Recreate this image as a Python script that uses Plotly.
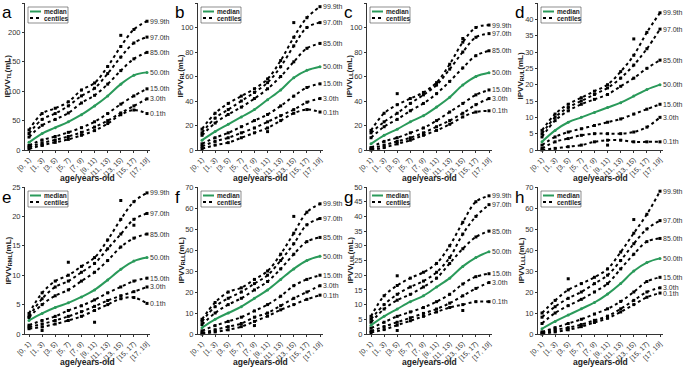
import plotly.graph_objects as go

W, H = 685, 369

categories = ["[0, 1)", "[1, 3)", "[3, 5)", "[5, 7)", "[7, 9)", "[9, 11)",
              "[11, 13)", "[13, 15)", "[15, 17)", "[17, 19]"]
centile_names = ["0.1th", "3.0th", "15.0th", "50.0th", "85.0th", "97.0th", "99.9th"]

# ---- panel a : TL ----
a_c001 = [2, 8, 13, 18, 25, 33, 45, 60, 68, 62]
a_c030 = [5, 12, 17, 23, 30, 39, 50, 63, 75, 87]
a_c150 = [8, 17, 23, 30, 38, 48, 62, 78, 92, 104]
a_c500 = [13, 28, 38, 48, 60, 75, 92, 112, 127, 132]
a_c850 = [22, 42, 52, 63, 80, 93, 112, 135, 155, 166]
a_c970 = [28, 52, 62, 75, 92, 105, 130, 158, 182, 192]
a_c999 = [34, 62, 71, 82, 102, 114, 142, 176, 205, 219]
a_out_x = [7, 1]
a_out_y = [195, 8]

# ---- panel b : RL ----
b_c001 = [1, 4, 6, 10, 14, 18, 24, 30, 33, 31]
b_c030 = [3, 7, 10, 14, 18, 23, 28, 33, 39, 42]
b_c150 = [5, 10, 14, 19, 24, 29, 36, 44, 51, 54]
b_c500 = [8, 15, 21, 27, 33, 41, 49, 59, 65, 68]
b_c850 = [12, 22, 29, 35, 42, 50, 60, 72, 83, 87]
b_c970 = [14, 26, 33, 40, 47, 55, 68, 85, 100, 104]
b_c999 = [17, 30, 38, 44, 50, 58, 73, 92, 108, 117]
b_out_x = [7, 5]
b_out_y = [104, 15]

# ---- panel c : LL ----
c_c001 = [0, 2, 5, 8, 12, 16, 21, 27, 31, 32]
c_c030 = [1, 4, 7, 10, 14, 19, 24, 30, 37, 42]
c_c150 = [2, 7, 10, 14, 18, 24, 31, 38, 45, 49]
c_c500 = [5, 12, 17, 23, 28, 35, 43, 53, 60, 63]
c_c850 = [10, 19, 25, 32, 38, 46, 56, 67, 77, 81]
c_c970 = [14, 23, 30, 38, 45, 53, 66, 80, 92, 95]
c_c999 = [16, 30, 37, 42, 47, 55, 70, 88, 100, 102]
c_out_x = [2, 7]
c_out_y = [46, 91]

# ---- panel d : RUL ----
d_c001 = [0, 0.5, 1, 1.5, 2.5, 3, 3, 2.5, 2.5, 2.5]
d_c030 = [0.5, 2.5, 3.5, 4.5, 5, 5, 5, 5.5, 7, 10]
d_c150 = [1.5, 4, 5.5, 6.5, 7.5, 8.5, 9.5, 11, 12.5, 14]
d_c500 = [2.5, 6, 8.5, 10, 11.5, 13, 14.5, 16.5, 18.5, 20]
d_c850 = [4, 9, 12, 14, 15.5, 17, 19.5, 22, 25, 27.5]
d_c970 = [5, 10, 13, 15, 17, 19, 22, 26, 31, 37]
d_c999 = [6, 11, 14, 16, 18, 20, 24, 29, 36, 42]
d_out_x = [7, 5]
d_out_y = [34, 1.5]

# ---- panel e : RML ----
e_c001 = [0.9, 1.2, 1.7, 2.3, 3, 4, 5, 6, 6.2, 5.2]
e_c030 = [1.2, 1.7, 2.3, 3, 3.8, 4.7, 5.7, 6.5, 7.2, 8]
e_c150 = [1.5, 2.3, 3, 4, 4.8, 5.8, 7, 8, 9, 9.5]
e_c500 = [2.3, 3.5, 4.5, 5.3, 6.3, 7.5, 9.2, 11, 12.4, 13]
e_c850 = [2.8, 5, 6.5, 7.5, 9, 10.5, 12.5, 14.8, 16.3, 17]
e_c970 = [3, 6, 8, 9, 10.5, 12, 14.5, 17, 19.5, 20.5]
e_c999 = [3.5, 7, 9, 10, 11.5, 13, 16, 19.5, 22.5, 24]
e_out_x = [3, 7, 1, 5, 8]
e_out_y = [12.2, 22.7, 0.6, 2, 18.5]

# ---- panel f : RLL ----
f_c001 = [0, 1, 2, 3.5, 6, 8.5, 11.5, 14, 16.5, 18.5]
f_c030 = [0.5, 2, 3.5, 5, 8, 10, 13.5, 17, 20, 23]
f_c150 = [1.5, 4, 6, 8, 11, 14, 18, 23, 26, 28]
f_c500 = [3, 7, 10, 13, 17, 21, 26, 31, 35, 37]
f_c850 = [4.5, 10, 14, 17, 21, 25, 31, 38, 44, 46]
f_c970 = [6, 13, 17, 20, 24, 28, 35, 43, 52, 55]
f_c999 = [7, 15, 20, 22, 26, 30, 38, 48, 58, 62]
f_out_x = [7, 4]
f_out_y = [56, 4]

# ---- panel g : LUL ----
g_c001 = [0.5, 1.5, 3, 4.5, 6, 7.5, 9, 10, 11, 11]
g_c030 = [1, 2.5, 4, 5.5, 7, 8.5, 10.5, 13, 15.5, 17.5]
g_c150 = [2, 4, 6, 7.5, 9, 11, 13.5, 17, 19.5, 20.5]
g_c500 = [3, 6, 8.5, 11, 13, 16, 19, 23, 26, 28]
g_c850 = [4, 8.5, 11.5, 13.5, 16, 19, 24, 29, 33, 35]
g_c970 = [5, 10, 13.5, 16, 18, 21, 26, 34, 40, 44]
g_c999 = [6, 13, 16.5, 19, 21, 24, 30, 38, 45, 47]
g_out_x = [2, 7, 2]
g_out_y = [19.8, 8, 1.2]

# ---- panel h : LLL ----
h_c001 = [0, 1, 2, 3.5, 5.5, 7.5, 10.5, 14, 17.5, 19.5]
h_c030 = [0.5, 2, 3, 4.5, 6.5, 8.5, 12, 16, 20, 22]
h_c150 = [1, 3, 5, 7, 9.5, 12, 15.5, 20, 25, 27]
h_c500 = [2.5, 6, 9, 12, 15, 19, 24, 30, 34, 36]
h_c850 = [5, 10, 13.5, 16.5, 20, 24, 31, 38, 44, 45.5]
h_c970 = [8, 13, 17, 20, 24, 28, 35, 43, 50, 54]
h_c999 = [10, 16, 21, 24, 27, 31, 39, 48, 57, 68]
h_out_x = [2, 7]
h_out_y = [26.3, 54.5]

panels = [
    ("a", "TL", 250, 50, [a_c001, a_c030, a_c150, a_c500, a_c850, a_c970, a_c999], a_out_x, a_out_y),
    ("b", "RL", 120, 20, [b_c001, b_c030, b_c150, b_c500, b_c850, b_c970, b_c999], b_out_x, b_out_y),
    ("c", "LL", 120, 20, [c_c001, c_c030, c_c150, c_c500, c_c850, c_c970, c_c999], c_out_x, c_out_y),
    ("d", "RUL", 45, 5, [d_c001, d_c030, d_c150, d_c500, d_c850, d_c970, d_c999], d_out_x, d_out_y),
    ("e", "RML", 25, 5, [e_c001, e_c030, e_c150, e_c500, e_c850, e_c970, e_c999], e_out_x, e_out_y),
    ("f", "RLL", 70, 10, [f_c001, f_c030, f_c150, f_c500, f_c850, f_c970, f_c999], f_out_x, f_out_y),
    ("g", "LUL", 50, 5, [g_c001, g_c030, g_c150, g_c500, g_c850, g_c970, g_c999], g_out_x, g_out_y),
    ("h", "LLL", 70, 10, [h_c001, h_c030, h_c150, h_c500, h_c850, h_c970, h_c999], h_out_x, h_out_y),
]

GREEN = "#2a9a5a"
FONT = "Liberation Sans"
col_left = [25, 198, 367, 538]
row_top = [3, 187]
PW, PH = 125, 147


def px_x(p):
    return p / W


def px_y(p):
    return 1 - p / H


fig = go.Figure()
layout = dict(
    width=W, height=H, margin=dict(l=0, r=0, t=0, b=0),
    paper_bgcolor="white", plot_bgcolor="white",
    font=dict(family=FONT, size=7, color="#222"),
    showlegend=False,
    annotations=[], shapes=[],
)
xidx = list(range(len(categories)))
px_per_cat = 118 / 9
xr0 = -4 / px_per_cat
xr1 = xr0 + PW / px_per_cat

for i, (letter, sub, ymax, dt, curves, ox, oy) in enumerate(panels):
    r, c = divmod(i, 4)
    n = "" if i == 0 else str(i + 1)
    xa, ya = "x" + n, "y" + n
    L = col_left[c]
    T = row_top[r]

    for k, cv in enumerate(curves):
        if k == 3:
            continue
        fig.add_trace(go.Scatter(
            x=xidx, y=cv, mode="lines+markers", name="centiles",
            line=dict(color="black", width=2, dash="dot", shape="spline", smoothing=1.0),
            marker=dict(symbol="square", size=3, color="black"),
            xaxis=xa, yaxis=ya, cliponaxis=False))
    fig.add_trace(go.Scatter(
        x=xidx, y=curves[3], mode="lines+markers", name="median",
        line=dict(color=GREEN, width=2, shape="spline", smoothing=1.0),
        marker=dict(symbol="circle", size=3, color=GREEN),
        xaxis=xa, yaxis=ya, cliponaxis=False))
    fig.add_trace(go.Scatter(
        x=ox, y=oy, mode="markers", marker=dict(symbol="square", size=3, color="black"),
        xaxis=xa, yaxis=ya, cliponaxis=False))

    layout["xaxis" + n] = dict(
        domain=[px_x(L), px_x(L + PW)], anchor=ya, range=[xr0, xr1], tickmode="array",
        tickvals=xidx, ticktext=categories, tickangle=-45, automargin=False,
        tickfont=dict(size=7, color="#333"), showgrid=False, zeroline=False,
        showline=True, linecolor="#333", linewidth=1, ticks="outside", ticklen=2,
        tickcolor="#333")
    layout["yaxis" + n] = dict(
        domain=[px_y(T + PH), px_y(T)], anchor=xa, range=[0, ymax], dtick=dt,
        automargin=False,
        tickfont=dict(size=7.5, color="#333"), showgrid=False, zeroline=False,
        showline=True, linecolor="#333", linewidth=1, ticks="outside", ticklen=2,
        tickcolor="#333")

    # legend drawn as box + samples
    layout["shapes"].append(dict(
        type="rect", xref="paper", yref="paper",
        x0=px_x(L + 3), x1=px_x(L + 43), y0=px_y(T + 20), y1=px_y(T + 4),
        line=dict(color="#444", width=0.6), fillcolor="white", layer="above"))
    layout["shapes"].append(dict(
        type="line", xref="paper", yref="paper",
        x0=px_x(L + 5), x1=px_x(L + 16), y0=px_y(T + 8.5), y1=px_y(T + 8.5),
        line=dict(color=GREEN, width=2), layer="above"))
    layout["shapes"].append(dict(
        type="line", xref="paper", yref="paper",
        x0=px_x(L + 5), x1=px_x(L + 16), y0=px_y(T + 15), y1=px_y(T + 15),
        line=dict(color="black", width=2, dash="dot"), layer="above"))
    for txt, yy in (("median", T + 8.5), ("centiles", T + 15)):
        layout["annotations"].append(dict(
            x=px_x(L + 17), y=px_y(yy), xref="paper", yref="paper", text=txt,
            showarrow=False, xanchor="left", yanchor="middle",
            font=dict(size=6.5, color="#222", weight="bold")))

    # centile labels
    for k, cv in enumerate(curves):
        layout["annotations"].append(dict(
            x=9, y=cv[-1], xref=xa, yref=ya, text=centile_names[k],
            showarrow=False, xanchor="left", yanchor="middle", xshift=1,
            font=dict(size=7, color="#333")))
    # x title
    layout["annotations"].append(dict(
        x=px_x(L + PW / 2), y=px_y(T + 175), xref="paper", yref="paper",
        text="age/years-old", showarrow=False, xanchor="center", yanchor="middle",
        font=dict(size=8.5, color="#222", weight="bold")))
    # y title
    layout["annotations"].append(dict(
        x=px_x(L - 17), y=px_y(T + PH / 2), xref="paper", yref="paper",
        text="IPVV<sub>%s</sub>(mL)" % sub, textangle=-90, showarrow=False,
        xanchor="center", yanchor="middle",
        font=dict(size=8, color="#222", weight="bold")))
    # panel letter
    layout["annotations"].append(dict(
        x=px_x(L - 25), y=px_y(T + 10), xref="paper", yref="paper",
        text=letter, showarrow=False, xanchor="left", yanchor="middle",
        font=dict(size=17, color="black")))

fig.update_layout(**layout)
fig.write_html("out.html", config={"displayModeBar": False},
               post_script="document.body.style.margin='0';document.body.style.padding='0';")
